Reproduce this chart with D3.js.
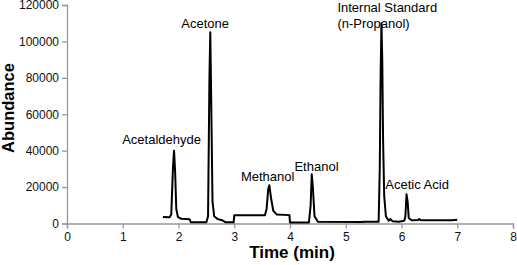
<!DOCTYPE html>
<html>
<head>
    <meta charset="utf-8">
    <script src="https://d3js.org/d3.v7.min.js"></script>
    <style>
        body { margin: 0; background: #fff; }
        text { font-family: "Liberation Sans", Arial, sans-serif; }
    </style>
</head>
<body>
    <div id="chart">
        <svg width="517" height="265"></svg>
    </div>
    <script>
        // chromatogram trace, time in min
        var times = [1.72, 1.84, 1.87, 1.90, 1.92, 1.94, 1.96, 1.99, 2.05, 2.20, 2.22, 2.50,
            2.53, 2.555, 2.57, 2.59, 2.61, 2.64, 2.70, 2.78, 2.84, 2.99, 3.00, 3.55,
            3.58, 3.61, 3.63, 3.66, 3.70, 3.76, 3.99, 4.00, 4.34, 4.37, 4.39, 4.41,
            4.44, 4.50, 5.30, 5.32, 5.59, 5.61, 5.625, 5.64, 5.655, 5.67, 5.69, 5.72,
            5.77, 5.80, 5.84, 5.95, 6.05, 6.07, 6.09, 6.11, 6.13, 6.18, 6.30, 6.32,
            6.35, 6.90, 7.00]
        var abundance = [3600, 3400, 5000, 30000, 40000, 28000, 8000, 3500, 2600, 2300, 700, 700,
            4000, 80000, 105000, 60000, 12000, 4000, 2500, 1800, 700, 700, 4500, 4500,
            8000, 19000, 21000, 14000, 7000, 5000, 4600, 600, 600, 10000, 27000, 20000,
            4000, 900, 800, 1000, 1000, 30000, 80000, 110000, 90000, 45000, 15000, 4000,
            1500, 2500, 1200, 1000, 1500, 4000, 16000, 12000, 3000, 1800, 1900, 2500,
            1800, 1800, 2000]

        // peak names and where they sit (time, abundance)
        var peakNames = [["Acetaldehyde"], ["Acetone"], ["Methanol"], ["Ethanol"],
            ["Internal Standard", "(n-Propanol)"], ["Acetic Acid"]]
        var labelTimes = [0.99, 2.05, 3.12, 4.08, 4.85, 5.71]
        var labelValues = [43800, 107200, 23500, 28900, 116000, 19000]

        var xTicks = [0, 1, 2, 3, 4, 5, 6, 7, 8]
        var yTicks = [0, 20000, 40000, 60000, 80000, 100000, 120000]

        var svg = d3.select("#chart svg")
        var margin = { left: 67, right: 4, top: 5, bottom: 41.5 }
        var w = 517 - margin.left - margin.right
        var h = 265 - margin.top - margin.bottom

        var x = d3.scaleLinear().domain([0, 8]).range([0, w])
        var y = d3.scaleLinear().domain([0, 120000]).range([h, 0])

        var g = svg.append("g")
            .attr("transform", "translate(" + margin.left + "," + margin.top + ")")

        // axes
        var xAxis = g.append("g")
            .attr("transform", "translate(0," + h + ")")
            .call(d3.axisBottom(x).tickValues(xTicks).tickSize(5).tickPadding(4).tickFormat(d3.format("d")))
        var yAxis = g.append("g")
            .call(d3.axisLeft(y).tickValues(yTicks).tickSize(5).tickPadding(3).tickFormat(d3.format("d")))

        g.selectAll(".domain, .tick line").attr("stroke", "#999").attr("stroke-width", 1.3)
        g.selectAll(".tick text")
            .attr("fill", "#111")
            .style("font-size", "12px")
            .style("font-family", "'Liberation Sans', Arial, sans-serif")

        // trace
        var pts = times.map(function(t, i) { return [t, abundance[i]] })
        var line = d3.line()
            .x(function(d) { return x(d[0]) })
            .y(function(d) { return y(d[1]) })
        g.append("path")
            .datum(pts)
            .attr("fill", "none")
            .attr("stroke", "#000")
            .attr("stroke-width", 2)
            .attr("stroke-linejoin", "round")
            .attr("d", line)

        // peak labels
        peakNames.forEach(function(lines, i) {
            var t = g.append("text")
                .attr("x", x(labelTimes[i]))
                .attr("y", y(labelValues[i]))
                .style("font-size", "13px")
                .attr("fill", "#000")
            lines.forEach(function(s, j) {
                t.append("tspan")
                    .attr("x", x(labelTimes[i]))
                    .attr("dy", j == 0 ? 0 : 16)
                    .text(s)
            })
        })

        // axis titles
        svg.append("text")
            .attr("x", margin.left + x(4) + 2)
            .attr("y", 258)
            .attr("text-anchor", "middle")
            .style("font-size", "17px")
            .style("font-weight", "bold")
            .text("Time (min)")
        svg.append("text")
            .attr("transform", "translate(14,108) rotate(-90)")
            .attr("text-anchor", "middle")
            .style("font-size", "16.5px")
            .style("font-weight", "bold")
            .text("Abundance")
    </script>
</body>
</html>
